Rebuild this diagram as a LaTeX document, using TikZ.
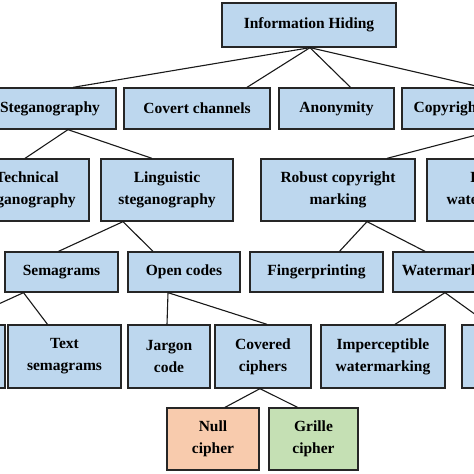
\documentclass[tikz,border=0pt]{standalone}
\usepackage{fontspec}
\setmainfont{Liberation Serif}
\definecolor{topicblue}{RGB}{189,215,238}
\definecolor{topicorange}{RGB}{248,203,173}
\definecolor{topicgreen}{RGB}{197,224,180}

\tikzset{%
          every topic/.style={
            rectangle,
            draw=black!85,
            line width=1.3pt,
            fill=topicblue,
            align=center,
            inner sep=0pt,
            font=\fontsize{15.5}{22}\selectfont\bfseries
          },
          row short/.style={minimum height=41pt},
          row tall/.style={minimum height=62pt},
          topic null/.style={every topic, row tall, fill=topicorange},
          topic grille/.style={every topic, row tall, fill=topicgreen},
          link/.style={draw, line width=1.1pt, black!90}
        }

\begin{document}
\begin{tikzpicture}[x=1pt, y=-1pt]
        \useasboundingbox [fill=white] (0,0) rectangle (474,474);
        \clip (0,0) rectangle (474,474);

        \node [every topic, minimum width=174pt, minimum height=44pt] (hiding) at (309,25) {Information Hiding};

        \node [every topic, row short, minimum width=132pt] (steg) at (50,108.5) {Steganography};
        \node [every topic, row short, minimum width=146pt] (covert) at (197,108.5) {Covert channels};
        \node [every topic, row short, minimum width=115pt] (anonymity) at (336.5,108.5) {Anonymity};
        \node [every topic, row short, minimum width=152pt] (copyright) at (478,108.5) {Copyright marking};

        \node [every topic, row tall, minimum width=124pt] (technical) at (27,190) {Technical\\steganography};
        \node [every topic, row tall, minimum width=132pt] (linguistic) at (167,190) {Linguistic\\steganography};
        \node [every topic, row tall, minimum width=154pt] (robust) at (338,190) {Robust copyright\\marking};
        \node [every topic, row tall, minimum width=134pt] (fragile) at (494,190) {Fragile\\watermarking};

        \node [every topic, minimum width=113pt, minimum height=40pt] (semagrams) at (61.5,272) {Semagrams};
        \node [every topic, minimum width=112pt, minimum height=40pt] (open-codes) at (184,272) {Open codes};
        \node [every topic, minimum width=133pt, minimum height=40pt] (fingerprinting) at (316.5,272) {Fingerprinting};
        \node [every topic, minimum width=116pt, minimum height=40pt] (watermarking) at (451,272) {Watermarking};

        \node [every topic, minimum width=120pt, minimum height=63pt] (visual) at (-55,356.5) {};
        \node [every topic, minimum width=113pt, minimum height=63pt] (text-sem) at (64.5,356.5) {Text\\semagrams};
        \node [every topic, minimum width=82pt, minimum height=63pt] (jargon) at (169,356.5) {Jargon\\code};
        \node [every topic, minimum width=96pt, minimum height=63pt] (covered) at (263,356.5) {Covered\\ciphers};
        \node [every topic, minimum width=124pt, minimum height=63pt] (imperceptible) at (383,356.5) {Imperceptible\\watermarking};
        \node [every topic, minimum width=118pt, minimum height=63pt] (visible) at (521,356.5) {};

        \node [topic null, minimum width=92pt] (null) at (213,439) {Null\\cipher};
        \node [topic grille, minimum width=89pt] (grille) at (313.5,439) {Grille\\cipher};

        \path [link] ([xshift=1pt]hiding.south) -- ([xshift=23pt]steg.north);
        \path [link] ([xshift=1pt]hiding.south) -- ([xshift=50pt]covert.north);
        \path [link] ([xshift=1pt]hiding.south) -- ([xshift=14pt]anonymity.north);
        \path [link] ([xshift=1pt]hiding.south) -- ([xshift=4pt]copyright.north);

        \path [link] ([xshift=18pt]steg.south) -- ([xshift=-2pt]technical.north);
        \path [link] ([xshift=18pt]steg.south) -- ([xshift=-15pt]linguistic.north);
        \path [link] ([xshift=19pt]copyright.south) -- ([xshift=49pt]robust.north);
        \path [link] ([xshift=19pt]copyright.south) -- ([xshift=3pt]fragile.north);

        \path [link] ([xshift=-44pt]linguistic.south) -- ([xshift=-3pt]semagrams.north);
        \path [link] ([xshift=-44pt]linguistic.south) -- ([xshift=-31pt]open-codes.north);
        \path [link] ([xshift=29pt]robust.south) -- ([xshift=23pt]fingerprinting.north);
        \path [link] ([xshift=29pt]robust.south) -- ([xshift=-26pt]watermarking.north);

        \path [link] ([xshift=-38pt]semagrams.south) -- ([xshift=9pt]visual.north);
        \path [link] ([xshift=-38pt]semagrams.south) -- ([xshift=-17pt]text-sem.north);
        \path [link] ([xshift=-16pt]open-codes.south) -- ([xshift=-2pt]jargon.north);
        \path [link] ([xshift=-16pt]open-codes.south) -- ([xshift=4pt]covered.north);
        \path [link] ([xshift=-6pt]watermarking.south) -- ([xshift=12pt]imperceptible.north);
        \path [link] ([xshift=-6pt]watermarking.south) -- ([xshift=-32pt]visible.north);

        \path [link] ([xshift=-3pt]covered.south) -- ([xshift=12pt]null.north);
        \path [link] ([xshift=-3pt]covered.south) -- ([xshift=-16pt]grille.north);
        \end{tikzpicture}
\end{document}
